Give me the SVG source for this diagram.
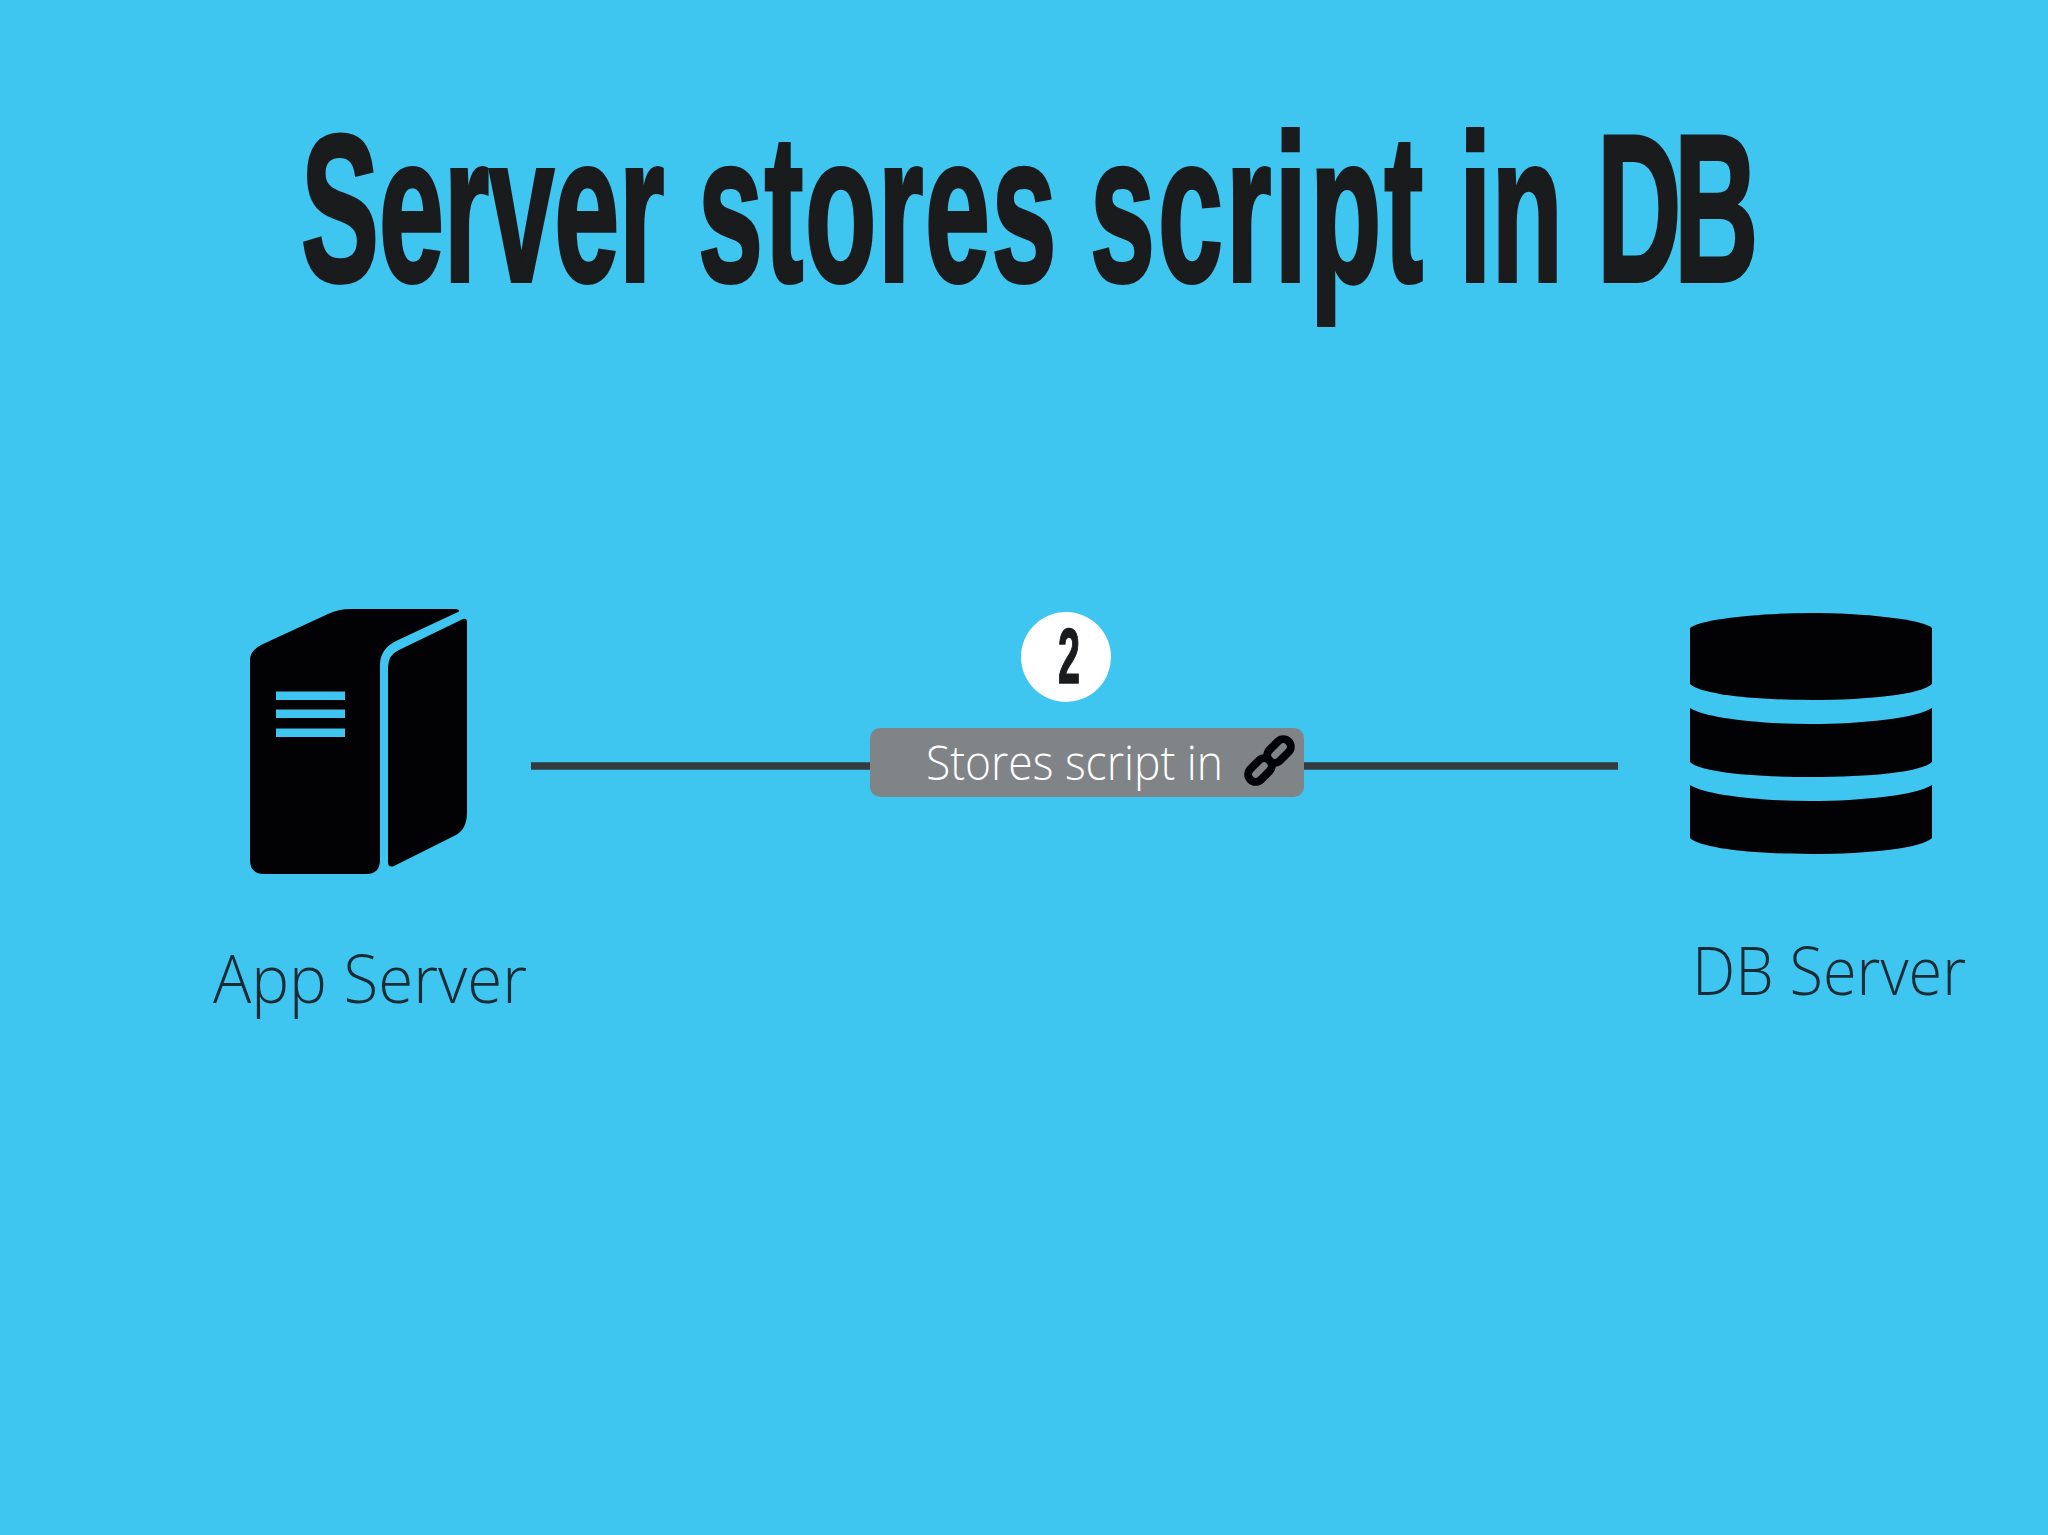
<svg xmlns="http://www.w3.org/2000/svg" width="2048" height="1535" viewBox="0 0 2048 1535">
<style>
.title{font-family:"Liberation Sans",Arial,sans-serif;font-weight:700;font-size:210px;fill:#1a1b1d;stroke:#1a1b1d;stroke-width:4px}
.label{font-family:"Open Sans","Noto Sans",sans-serif;font-weight:300;font-size:66px;fill:#1c2a33}
.icon{fill:#020204}
.bar{fill:#3fc6f0}
.link{fill:none;stroke:#020204;stroke-width:8}
</style>
<rect width="2048" height="1535" fill="#3fc6f0"/>
<text class="title" transform="scale(.556 1)" y="281"><tspan x="541.400">Server</tspan> <tspan x="1255.400" letter-spacing="2.900">stores</tspan> <tspan x="1960.400" letter-spacing="5.500">script</tspan> <tspan x="2624.100">in</tspan> <tspan x="2872.300" letter-spacing="-13">DB</tspan></text>
<g id="connectors"><path d="M531 766H1618" stroke="#333b40" stroke-width="7.500" fill="none"/></g>
<g id="app-server">
<path class="icon" d="M250 660Q250 650 263 644L328 614Q339 609 350 609H456Q461 610 458 612L396 641Q380 649 380 665V860Q380 874 366 874H264Q250 874 250 860Z"/>
<path class="icon" d="M388 667Q388 655 399 650L463 619Q467 618 467 622V812Q467 829 456 835L394 866Q388 868 388 862Z"/>
<rect class="bar" x="276" y="691.500" width="69" height="8.500"/><rect class="bar" x="276" y="709.500" width="69" height="8.500"/><rect class="bar" x="276" y="728.500" width="69" height="8.500"/>
<text class="label" x="213" y="1003" textLength="314" lengthAdjust="spacingAndGlyphs">App Server</text>
</g>
<g id="db-server">
<path class="icon" d="M1690 628C1700 619 1760 613 1811 613S1922 619 1932 628V684C1922 694 1870 700 1811 700S1700 694 1690 684Z"/>
<path class="icon" d="M1690 708C1705 718 1760 724 1811 724S1917 718 1932 708V762C1922 772 1870 777 1811 777S1700 772 1690 762Z"/>
<path class="icon" d="M1690 785C1705 795 1760 801 1811 801S1917 795 1932 785V838C1922 848 1870 854 1811 854S1700 848 1690 838Z"/>
<text class="label" x="1692" y="995" textLength="274" lengthAdjust="spacingAndGlyphs">DB Server</text>
</g>
<g id="step-badge">
<circle cx="1066" cy="657" r="45" fill="#fff"/>
<text x="1058" y="683" textLength="22" lengthAdjust="spacingAndGlyphs" style="font-family:'Liberation Sans',sans-serif;font-weight:700;font-size:77px;fill:#1a1b1d;stroke:#1a1b1d;stroke-width:1.500px">2</text>
</g>
<g id="edge-label">
<rect x="870" y="728" width="434" height="69" rx="10" fill="#808487"/>
<text x="926" y="780" textLength="297" lengthAdjust="spacingAndGlyphs" style="font-family:'Open Sans','Noto Sans',sans-serif;font-weight:300;font-size:48px;fill:#fff">Stores script in</text>
<g transform="translate(1269.500 760.500) rotate(-45)">
<rect class="link" x="-27" y="-7.500" width="27" height="15" rx="7.500"/>
<rect class="link" x="0" y="-7.500" width="27" height="15" rx="7.500"/>
</g>
</g>
</svg>
